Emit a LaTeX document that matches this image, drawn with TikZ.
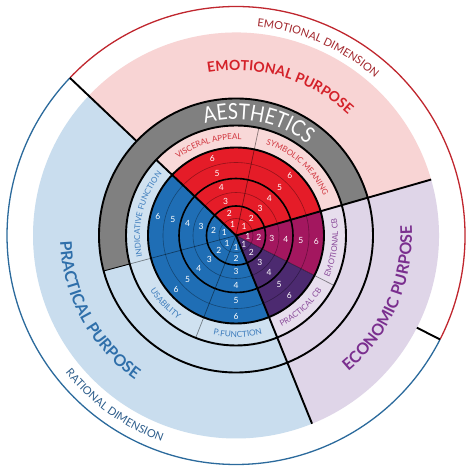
\documentclass[tikz,border=0pt]{standalone}
\usepackage{fontspec}
\setmainfont{Lato}
\newfontfamily\aesfont[FakeStretch=0.85]{Lato}
\usetikzlibrary{decorations.text}
\definecolor{wred}{HTML}{E51C28}
\definecolor{wblue}{HTML}{1F6EB5}
\definecolor{wmag}{HTML}{A3175F}
\definecolor{wpur}{HTML}{4C2A70}
\definecolor{lpink}{HTML}{F8D8D8}
\definecolor{lblue}{HTML}{CFE1F0}
\definecolor{llav}{HTML}{E7DEED}
\definecolor{ppink}{HTML}{F8D4D4}
\definecolor{pblue}{HTML}{C9DDEE}
\definecolor{plav}{HTML}{DFD5E8}
\definecolor{agray}{HTML}{808080}
\definecolor{dimred}{HTML}{C0262E}
\definecolor{dimblue}{HTML}{2B6A9C}
\definecolor{tred}{HTML}{D0353E}
\definecolor{tblue}{HTML}{3D7CBC}
\definecolor{tpur}{HTML}{8A4A9A}
\definecolor{epred}{HTML}{D42129}
\definecolor{ecpur}{HTML}{7A2E8E}
\definecolor{prblue}{HTML}{2F6FAA}
\definecolor{edred}{HTML}{A3282E}
\definecolor{rdblue}{HTML}{2E5E8C}
\newcommand\annsec[5]{\fill[#1] (#2:#4) arc[start angle=#2,end angle=#3,radius=#4] -- (#3:#5) arc[start angle=#3,end angle=#2,radius=#5] -- cycle;}
\newcommand\wedgesec[4]{\fill[#1] (0,0) -- (#2:#4) arc[start angle=#2,end angle=#3,radius=#4] -- cycle;}
% top-style text: colour, format, centre angle, baseline radius, half span, text
\newcommand\toptext[6]{\path[decorate,decoration={text along path,text align=center,text color=#1,text={|#2|#6}}] ({#3+#5}:#4) arc[start angle={#3+#5},end angle={#3-#5},radius=#4];}
\newcommand\bottext[6]{\path[decorate,decoration={text along path,text align=center,text color=#1,text={|#2|#6}}] ({#3-#5}:#4) arc[start angle={#3-#5},end angle={#3+#5},radius=#4];}
\begin{document}
\begin{tikzpicture}[x=1pt,y=1pt,
  numtxt/.style={text=white,font=\fontsize{8.5}{8.5}\selectfont,inner sep=0pt},
  thickline/.style={black,line width=1.9pt},
  thinline/.style={black,opacity=0.45,line width=0.7pt}]
\useasboundingbox (-236,-237.5) rectangle (238,235.5);
\fill[white] (-236,-237.5) rectangle (238,235.5);
% purpose disk
\wedgesec{ppink}{16}{136.5}{203}
\wedgesec{pblue}{136.5}{292}{203}
\wedgesec{plav}{292}{376}{203}
% dimension circle
\draw[dimred,line width=1.3pt] (-27:229) arc[start angle=-27,end angle=136.5,radius=229];
\draw[dimblue,line width=1.3pt] (136.5:229) arc[start angle=136.5,end angle=333,radius=229];
% aesthetics ring
\annsec{agray}{16}{195}{110}{137}
% label ring
\annsec{lpink}{16}{136.5}{88}{110}
\annsec{lblue}{136.5}{292}{88}{110}
\annsec{llav}{292}{376}{88}{110}
% wheel
\wedgesec{wred}{16}{136.5}{88}
\wedgesec{wblue}{136.5}{292}{88}
\wedgesec{wmag}{333}{376}{88}
\wedgesec{wpur}{292}{333}{88}
% thin rings
\foreach \r in {17,43,73} \draw[black,opacity=0.35,line width=0.6pt] (0,0) circle[radius=\r];
% thin dividers
\foreach \a in {78,333,195,248.5} \draw[thinline] (0,0) -- (\a:110);
\draw[black,line width=0.9pt] (195:110) -- (195:137);
% thick rings
\foreach \r in {29.5,57} \draw[black,line width=1.6pt] (0,0) circle[radius=\r];
\foreach \r in {88,110,137} \draw[thickline] (0,0) circle[radius=\r];
% thick dividers
\draw[thickline] (0,0) -- (16:203);
\draw[thickline] (0,0) -- (-68:203);
\draw[thickline] (0,0) -- (136.5:110);
\draw[thickline] (136.5:137) -- (136.5:229);
\draw[thickline] (-27:203) -- (-27:229);
% numbers
\foreach \a in {107,48,166,222,270,311.5,355.5}{
  \foreach \n/\r in {1/12,2/23,3/36,4/50,5/65,6/80.5}{
    \node[numtxt] at (\a:\r) {\n};
  }
}
% texts
\toptext{white}{\aesfont\fontsize{22}{22}\selectfont}{78.7}{116}{70}{AESTHETICS}
\toptext{tred}{\fontsize{8}{8}\selectfont}{106.9}{96}{60}{VISCERAL APPEAL}
\toptext{tred}{\fontsize{8}{8}\selectfont}{48}{96}{60}{SYMBOLIC MEANING}
\toptext{tblue}{\fontsize{8}{8}\selectfont}{166.5}{96}{60}{INDICATIVE FUNCTION}
\bottext{tblue}{\fontsize{8.3}{8.3}\selectfont}{224}{102}{50}{USABILITY}
\bottext{tblue}{\fontsize{8.3}{8.3}\selectfont}{271}{102}{50}{P.FUNCTION}
\bottext{tpur}{\fontsize{8}{8}\selectfont}{312}{102}{50}{PRACTICAL CB}
\bottext{tpur}{\fontsize{8}{8}\selectfont}{352.7}{102}{50}{EMOTIONAL CB}
\toptext{epred}{\bfseries\fontsize{14}{14}\selectfont}{73.5}{165}{70}{EMOTIONAL PURPOSE}
\bottext{ecpur}{\bfseries\fontsize{16}{16}\selectfont}{336.5}{176}{70}{ECONOMIC PURPOSE}
\bottext{prblue}{\bfseries\fontsize{16}{16}\selectfont}{208.5}{176}{70}{PRACTICAL PURPOSE}
\toptext{edred}{\fontsize{11}{11}\selectfont}{66.4}{210}{60}{EMOTIONAL DIMENSION}
\bottext{rdblue}{\fontsize{11}{11}\selectfont}{234.5}{219}{60}{RATIONAL DIMENSION}
\end{tikzpicture}
\end{document}
